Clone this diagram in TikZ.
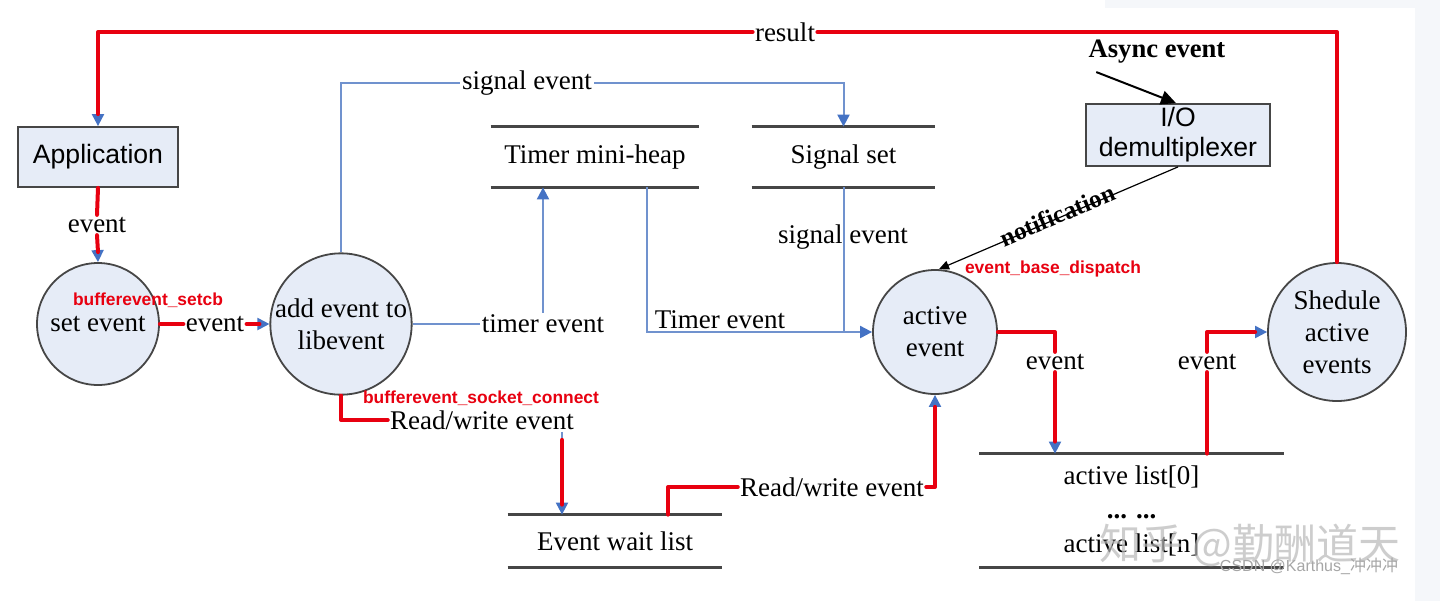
\documentclass[tikz,border=0pt]{standalone}
\usepackage{fontspec}
\setmainfont{Liberation Serif}
\setsansfont{Liberation Sans}
\newfontfamily\cjkfont{Noto Sans CJK SC}
\usetikzlibrary{arrows.meta, positioning}
\definecolor{flowblue}{RGB}{112,146,206}
\definecolor{tipblue}{RGB}{68,114,196}
\definecolor{penred}{RGB}{232,0,16}
\definecolor{bubble}{RGB}{230,236,247}
\definecolor{rim}{RGB}{70,70,70}
\definecolor{haze}{RGB}{245,247,250}

\begin{document}
\begin{tikzpicture}[x=0.5pt,y=-0.5pt,
  txt/.style={font=\fontsize{13.5}{16}\selectfont, inner sep=1pt},
  box/.style={draw=rim, line width=0.9pt, fill=bubble, align=center, inner sep=0pt,
    font=\sffamily\fontsize{13.3}{15}\selectfont},
  proc/.style={circle, draw=rim, line width=0.9pt, fill=bubble, align=center, inner sep=0pt,
    font=\fontsize{13.5}{16}\selectfont},
  store/.style={minimum height=30pt, inner sep=0pt, font=\fontsize{13.5}{16}\selectfont},
  flow/.style={draw=flowblue, line width=1pt},
  arrowin/.style={-{Triangle[length=6pt,width=6pt,color=tipblue]}},
  pen/.style={draw=penred, line width=2pt, line cap=round, line join=round},
  apiname/.style={text=penred, inner sep=0pt, font=\sffamily\bfseries\fontsize{8.7}{10}\selectfont}]
\fill[white] (0,0) rectangle (1440,601);
\useasboundingbox (0,0) rectangle (1440,601);
\fill[haze] (1105,0) rectangle (1440,8);
\fill[haze] (1415,0) rectangle (1440,601);

% processes
\node[box, minimum width=80pt, minimum height=30pt] (app) at (98,157) {Application};
\node[box, minimum width=92pt, minimum height=31pt] (io) at (1178,135) {I/O\\demultiplexer};
\node[proc, minimum size=61pt] (set) at (98,324) {set event};
\node[proc, minimum size=69pt] (add) at (341,324) {add event to\\libevent};
\node[proc, minimum size=62pt] (act) at (935,332) {active\\event};
\node[proc, minimum size=69pt] (shed) at (1337,332) {Shedule\\active\\events};

% stores
\node[store, minimum width=104pt] (heap) at (595,157) {Timer mini-heap};
\node[store, minimum width=91.5pt] (sigset) at (843.5,157) {Signal set};
\node[store, minimum width=107pt, minimum height=26pt] (wait) at (615,541) {Event wait list};
\node[store, minimum width=152pt, minimum height=56.5pt, align=center,
  font=\fontsize{13.5}{17}\selectfont] (alist) at (1131.5,510.5) {active list[0]\\\textbf{... ...}\\active list[n]};
\foreach \s in {heap,sigset,wait,alist}
  \draw[rim, line width=1.2pt] (\s.north west) -- (\s.north east) (\s.south west) -- (\s.south east);

% labels
\node[txt] (res) at (785,32) {result};
\node[txt] (ev1) at (97,225) {event};
\node[txt] (ev2) at (215,324) {event};
\node[txt] (sig1) at (527,83) {signal event};
\node[txt] (tmr) at (543,324) {timer event};
\node[txt] (tev) at (720,320) {Timer event};
\node[txt] (sig2) at (843,237) {signal event};
\node[txt] (rw1) at (482,420) {Read/write event};
\node[txt] (rw2) at (832,487) {Read/write event};
\node[txt] (ev3) at (1055,362) {event};
\node[txt] (ev4) at (1207,362) {event};
\node[txt, font=\bfseries\fontsize{13.3}{15}\selectfont] (async) at (1157,52) {Async event};

\node[apiname] (setcb) at (148,300) {bufferevent\_setcb};
\node[apiname] (connect) at (481,398) {bufferevent\_socket\_connect};
\node[apiname] (dispatch) at (1053,269) {event\_base\_dispatch};

\coordinate (wIn) at ([xshift=-26.5pt]wait.north);
\coordinate (wOut) at ([xshift=26.5pt]wait.north);
\coordinate (l3) at (ev3.south |- alist.north);
\coordinate (l4) at (ev4.south |- alist.north);

% blue flows
\draw[flow] (shed.north) |- (res.east);
\draw[flow, arrowin] (res.west) -| (app.north);
\draw[flow] (app.south) -- (ev1.north);
\draw[flow, arrowin] (ev1.south) -- (set.north);
\draw[flow] (set.east) -- (ev2.west);
\draw[flow, arrowin] (ev2.east) -- (add.west);
\draw[flow] (add.north) |- (sig1.west);
\draw[flow, arrowin] (sig1.east) -| (sigset.north);
\draw[flow] (add.east) -- (add.east -| tmr.west);
\draw[flow, arrowin] (tmr.north) -- (tmr.north |- heap.south);
\draw[flow, arrowin] ([xshift=26pt]heap.south) |- (act.west);
\draw[flow] (sigset.south) -- (sigset.south |- act.west);
\draw[flow] (add.south) |- (rw1.west);
\draw[flow, arrowin] (rw1.south -| wIn) -- (wIn);
\draw[flow] (wOut) |- (rw2.west);
\draw[flow, arrowin] (rw2.east) -| (act.south);
\draw[flow] (act.east) -| (ev3.north);
\draw[flow, arrowin] (ev3.south) -- (l3);
\draw[flow] (l4) -- (ev4.south);
\draw[flow, arrowin] (ev4.north) |- (shed.west);

\draw[black, line width=1pt, -{Triangle[length=7.5pt,width=7pt]}]
  ([shift={(10,6)}]async.south west) -- ([xshift=-1pt]io.north);
\draw[black, line width=0.6pt, -{Triangle[length=5pt,width=4.5pt]}] (io.south) --
  node[sloped, inner sep=0pt, yshift=1.5pt, font=\bfseries\fontsize{12.5}{14}\selectfont] (note) {notification}
  ([xshift=2pt]act.north);

% red pen marks
\draw[pen] (shed.north) |- (res.east);
\draw[pen] (res.west) -| ([yshift=6pt]app.north);
\draw[pen] (app.south) -- (ev1.north);
\draw[pen] (ev1.south) -- ([yshift=5pt]set.north);
\draw[pen] (set.east) -- (ev2.west);
\draw[pen] (ev2.east) -- ([xshift=-5pt]add.west);
\draw[pen] (add.south) |- (rw1.west);
\draw[pen] ([yshift=-4pt]rw1.south -| wIn) -- ([yshift=5pt]wIn);
\draw[pen] (wOut) |- (rw2.west);
\draw[pen] (rw2.east) -| ([yshift=-6pt]act.south);
\draw[pen] (act.east) -| (ev3.north);
\draw[pen] (ev3.south) -- ([yshift=6pt]l3);
\draw[pen] (l4) -- (ev4.south);
\draw[pen] (ev4.north) |- ([xshift=-6pt]shed.west);

% watermark
\node[text=gray!55, opacity=0.7, font=\cjkfont\fontsize{21}{24}\selectfont] (wm) at (1250,545) {知乎 @勤酬道天};
\node[text=gray!70, font=\sffamily\fontsize{8}{9}\selectfont] (csdn) at (1309,566) {CSDN @Karthus\_\cjkfont 冲冲冲};
\end{tikzpicture}
\end{document}
